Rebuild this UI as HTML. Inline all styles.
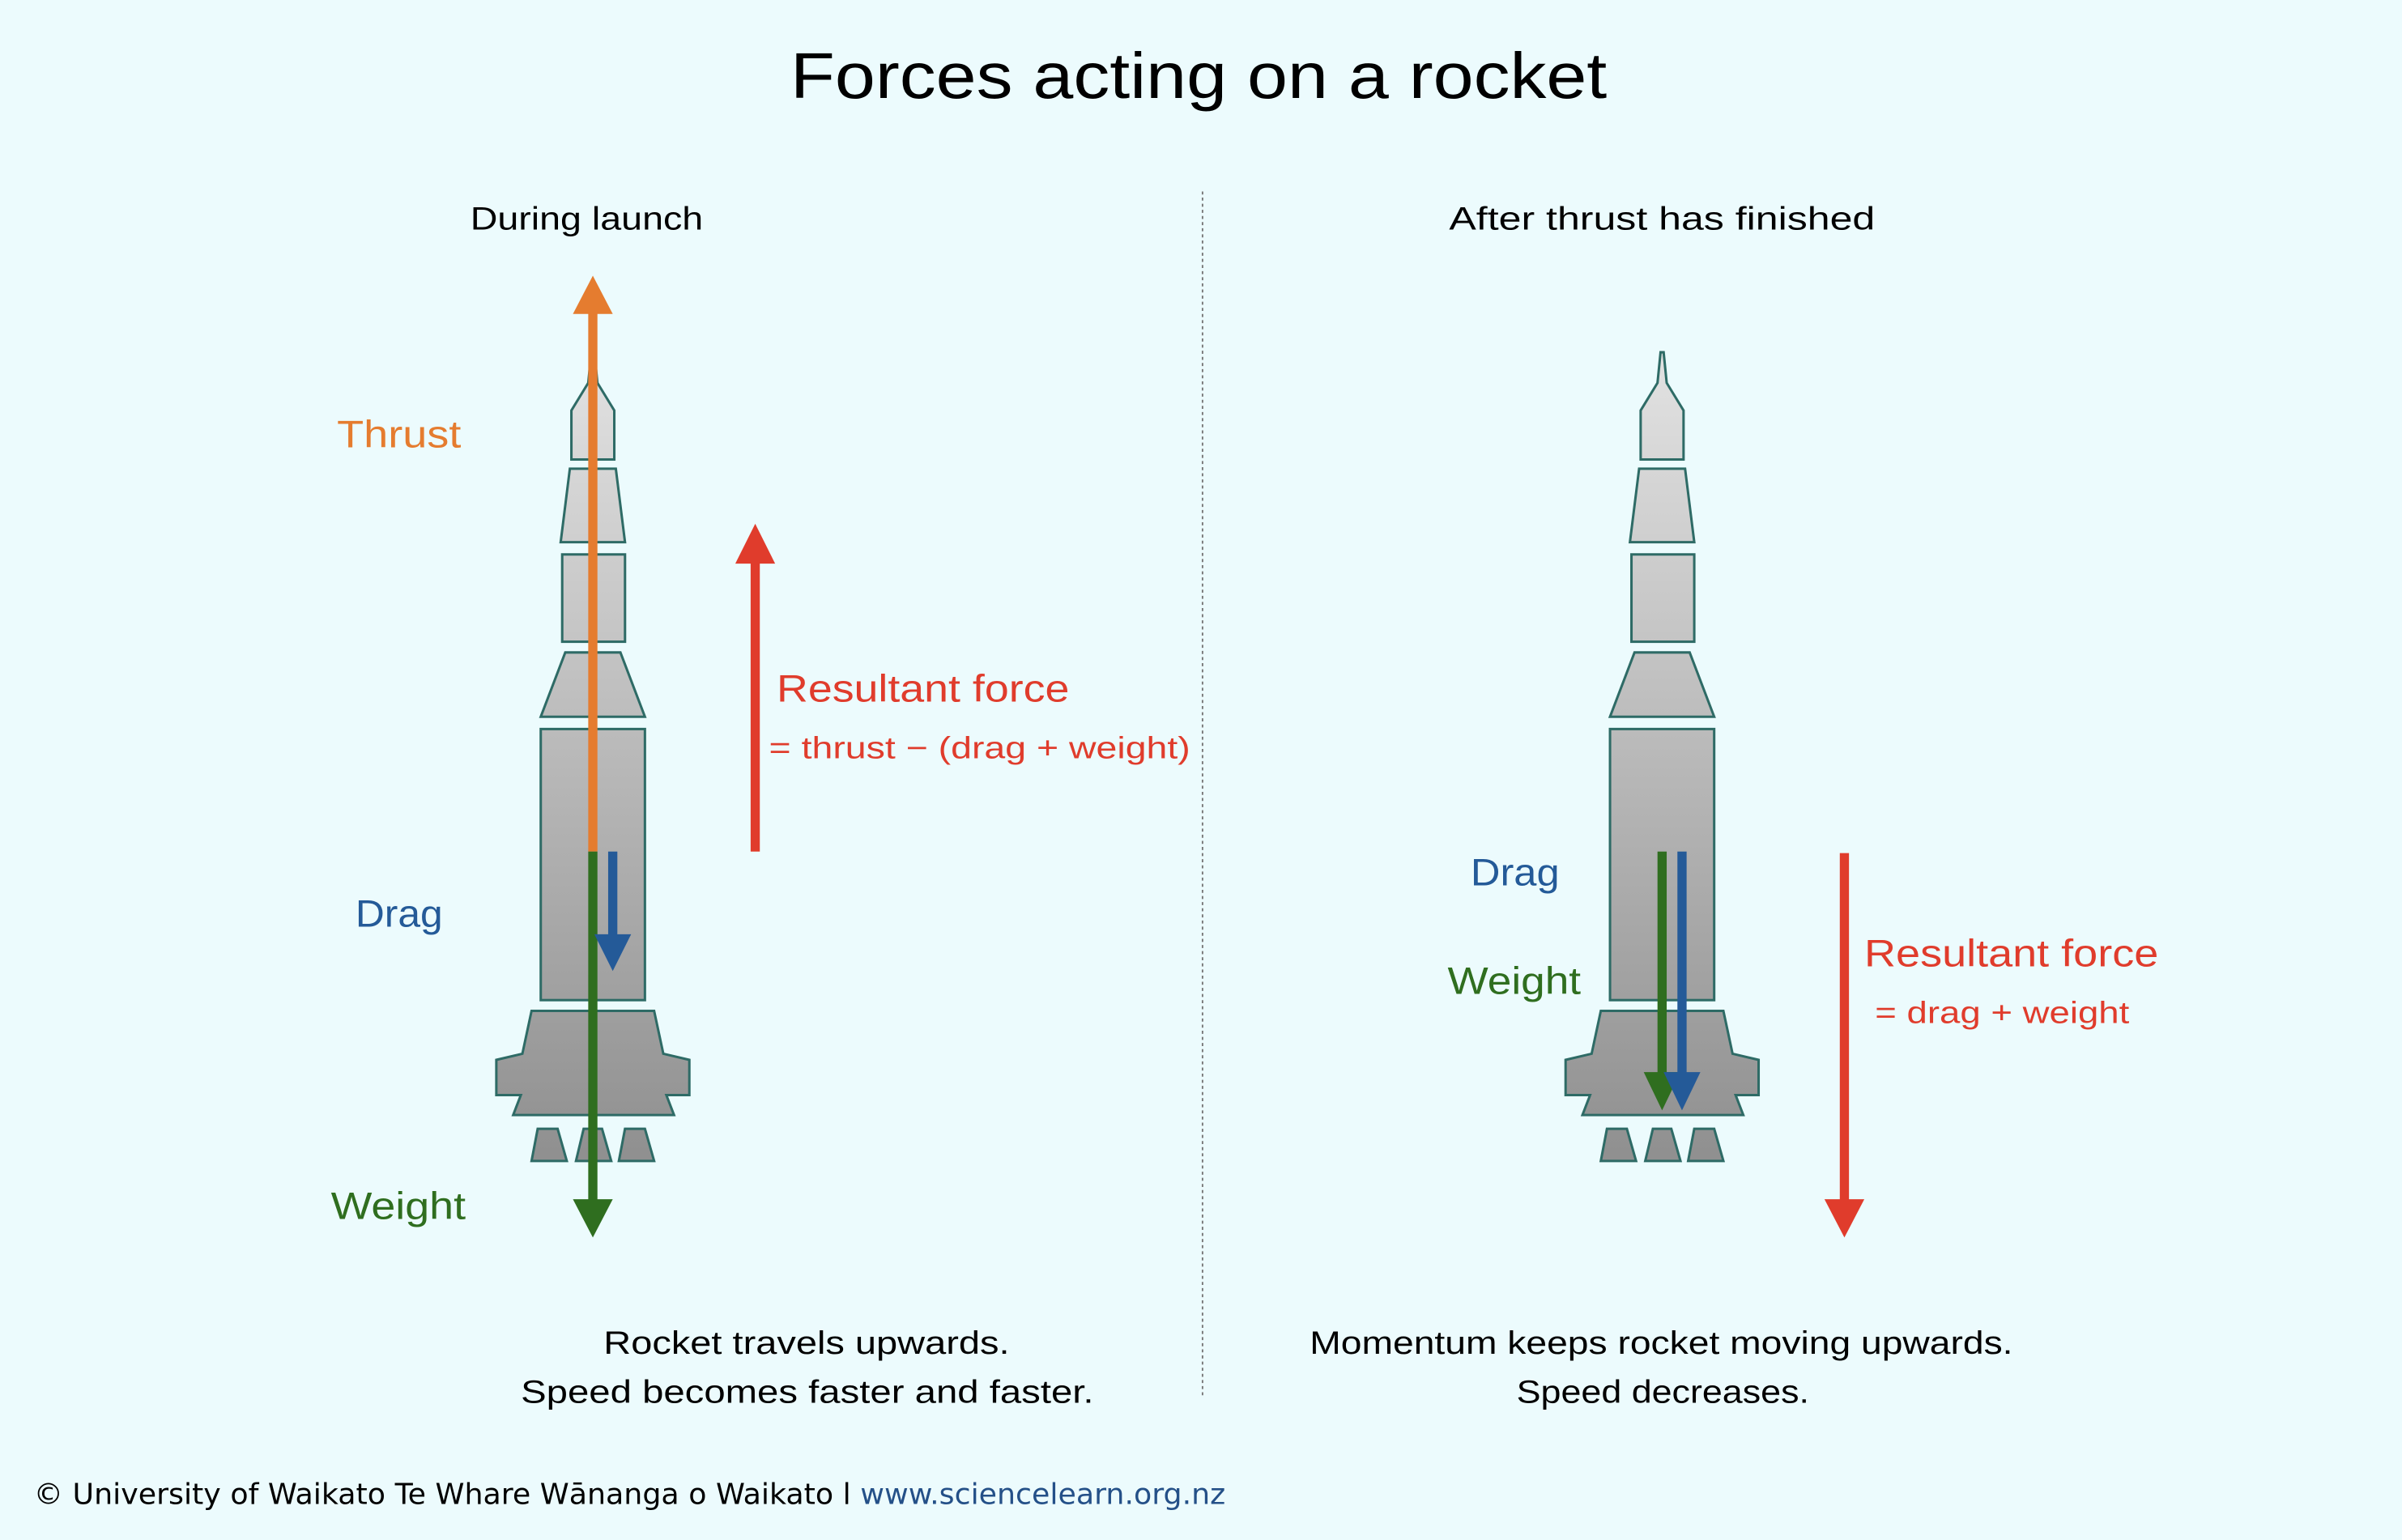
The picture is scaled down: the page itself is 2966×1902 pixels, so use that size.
<!DOCTYPE html>
<html><head><meta charset="utf-8"><style>
html,body{margin:0;padding:0;background:#ecfbfd;}
svg{display:block}
text{font-family:"Liberation Sans",sans-serif;}
</style></head><body>
<svg width="2966" height="1902" viewBox="0 0 1568 1005.5" xmlns="http://www.w3.org/2000/svg">
<defs>
<linearGradient id="gr" gradientUnits="userSpaceOnUse" x1="0" y1="230" x2="0" y2="760">
<stop offset="0" stop-color="#e2e2e2"/><stop offset="1" stop-color="#8f8f8f"/></linearGradient>
<g id="rocket" fill="url(#gr)" stroke="#2e6b66" stroke-width="1.6">
<path d="M386 230 L388 230 L390 250 L401 268 L401 300 L373 300 L373 268 L384 250 Z"/>
<path d="M372 306 L402 306 L408 354 L366 354 Z"/>
<rect x="367" y="362" width="41" height="57"/>
<path d="M369 426 L405 426 L421 468 L353 468 Z"/>
<rect x="353" y="476" width="68" height="177"/>
<path d="M347 660 L427 660 L433 688 L450 692 L450 715 L435 715 L440 728 L335 728 L340 715 L324 715 L324 692 L341 688 Z"/>
<path d="M351 737 L364 737 L370 758 L347 758 Z"/>
<path d="M381 737 L393 737 L399 758 L376 758 Z"/>
<path d="M408 737 L421 737 L427 758 L404 758 Z"/>
</g>
</defs>
<rect width="1568" height="1005.5" fill="#ecfbfd"/>
<text x="516" y="64" font-size="42" textLength="533" lengthAdjust="spacingAndGlyphs" fill="#000">Forces acting on a rocket</text>
<text x="307" y="150" font-size="21" textLength="152" lengthAdjust="spacingAndGlyphs">During launch</text>
<text x="946" y="150" font-size="21" textLength="278" lengthAdjust="spacingAndGlyphs">After thrust has finished</text>
<line x1="785" y1="125" x2="785" y2="912" stroke="#777" stroke-width="1" stroke-dasharray="2,2"/>

<use href="#rocket"/>
<use href="#rocket" transform="translate(698,0)"/>

<rect x="384" y="200" width="6" height="356" fill="#e57c2f"/>
<path d="M374 205 L387 180 L400 205 Z" fill="#e57c2f"/>
<rect x="384" y="556" width="6" height="230" fill="#2f6e1f"/>
<path d="M374 783 L387 808 L400 783 Z" fill="#2f6e1f"/>
<rect x="397" y="556" width="6" height="56" fill="#245a98"/>
<path d="M388 610 L400 634 L412 610 Z" fill="#245a98"/>
<rect x="490" y="364" width="6" height="192" fill="#e03c2c"/>
<path d="M480 368 L493 342 L506 368 Z" fill="#e03c2c"/>

<rect x="1082" y="556" width="6" height="146" fill="#2f6e1f"/>
<path d="M1073 700 L1085 725 L1097 700 Z" fill="#2f6e1f"/>
<rect x="1095" y="556" width="6" height="146" fill="#245a98"/>
<path d="M1086 700 L1098 725 L1110 700 Z" fill="#245a98"/>
<rect x="1201" y="557" width="6" height="228" fill="#e03c2c"/>
<path d="M1191 783 L1204 808 L1217 783 Z" fill="#e03c2c"/>

<text x="220" y="292" font-size="25" textLength="81" lengthAdjust="spacingAndGlyphs" fill="#e57c2f">Thrust</text>
<text x="232" y="605" font-size="25" textLength="57" lengthAdjust="spacingAndGlyphs" fill="#245a98">Drag</text>
<text x="216" y="796" font-size="25" textLength="88" lengthAdjust="spacingAndGlyphs" fill="#2f6e1f">Weight</text>
<text x="507" y="458" font-size="25" textLength="191" lengthAdjust="spacingAndGlyphs" fill="#e03c2c">Resultant force</text>
<text x="502" y="495" font-size="20" textLength="275" lengthAdjust="spacingAndGlyphs" fill="#e03c2c">= thrust − (drag + weight)</text>

<text x="960" y="578" font-size="25" textLength="58" lengthAdjust="spacingAndGlyphs" fill="#245a98">Drag</text>
<text x="945" y="649" font-size="25" textLength="87" lengthAdjust="spacingAndGlyphs" fill="#2f6e1f">Weight</text>
<text x="1217" y="631" font-size="25" textLength="192" lengthAdjust="spacingAndGlyphs" fill="#e03c2c">Resultant force</text>
<text x="1224" y="668" font-size="20" textLength="166" lengthAdjust="spacingAndGlyphs" fill="#e03c2c">= drag + weight</text>

<text x="394" y="884" font-size="21" textLength="265" lengthAdjust="spacingAndGlyphs">Rocket travels upwards.</text>
<text x="340" y="916" font-size="21" textLength="374" lengthAdjust="spacingAndGlyphs">Speed becomes faster and faster.</text>
<text x="855" y="884" font-size="21" textLength="459" lengthAdjust="spacingAndGlyphs">Momentum keeps rocket moving upwards.</text>
<text x="990" y="916" font-size="21" textLength="191" lengthAdjust="spacingAndGlyphs">Speed decreases.</text>

<text x="22" y="982" font-size="19" textLength="778" lengthAdjust="spacingAndGlyphs" style="font-family:'DejaVu Sans',sans-serif" fill="#000">© University of Waikato Te Whare Wānanga o Waikato l <tspan fill="#245088">www.sciencelearn.org.nz</tspan></text>
</svg>
</body></html>
